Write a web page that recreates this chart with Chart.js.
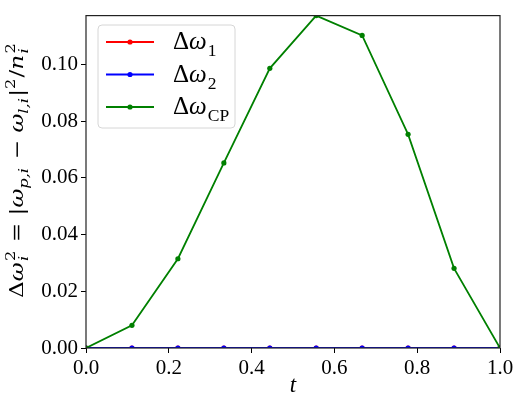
<!DOCTYPE html>
<html>
<head>
<meta charset="utf-8">
<script src="https://cdn.jsdelivr.net/npm/chart.js@4.4.1/dist/chart.umd.min.js"></script>
<style>
  html, body { margin: 0; padding: 0; background: #fff; }
  #wrap { width: 523px; height: 413px; }
</style>
</head>
<body>
<div id="wrap"><canvas id="c" width="523" height="413"></canvas></div>
<script>
// data
const tValues = [0.0, 0.111, 0.222, 0.333, 0.444, 0.556, 0.667, 0.778, 0.889, 1.0];
const dOmega1 = [0, 0, 0, 0, 0, 0, 0, 0, 0, 0];
const dOmega2 = [0, 0, 0, 0, 0, 0, 0, 0, 0, 0];
const dOmegaCP = [0.0, 0.0080, 0.0315, 0.0653, 0.0987, 0.1173, 0.1103, 0.0754, 0.0281, 0.0];
const seriesSubs = ['1', '2', 'CP'];
const seriesColors = ['#ff0000', '#0000ff', '#008000'];
const xTicks = [0.0, 0.2, 0.4, 0.6, 0.8, 1.0];
const yTicks = [0.00, 0.02, 0.04, 0.06, 0.08, 0.10];

const SERIF = '"Liberation Serif", "DejaVu Serif", serif';
const WIDE_SERIF = '"DejaVu Serif", serif';

function pts(ys) { return tValues.map((t, i) => ({ x: t, y: ys[i] })); }

function mkSet(ys, idx) {
  return {
    label: 'Δω' + seriesSubs[idx],
    data: pts(ys),
    borderColor: seriesColors[idx],
    backgroundColor: seriesColors[idx],
    borderWidth: 1.8,
    pointRadius: 2.6,
    pointHoverRadius: 2.6,
    pointBorderWidth: 0,
    tension: 0,
    clip: 0,
    order: 3 - idx
  };
}

// draw a run of pieces: {t, it, sh (baseline shift), sz (scale), stack}
function drawRich(ctx, pieces, x, y, size, fam) {
  fam = fam || SERIF;
  let cx = x;
  pieces.forEach(p => {
    if (p.stack) {
      // superscript over subscript, same x
      ctx.font = `${size * 0.7}px ${fam}`;
      ctx.fillText(p.sup, cx + 1, y - size * 0.42);
      const w1 = ctx.measureText(p.sup).width;
      ctx.font = `italic ${size * 0.7}px ${fam}`;
      ctx.fillText(p.sub, cx + 1, y + size * 0.25);
      const w2 = ctx.measureText(p.sub).width;
      cx += Math.max(w1, w2) + 2;
      return;
    }
    const s = size * (p.sz || 1);
    ctx.font = `${p.it ? 'italic ' : ''}${s}px ${fam}`;
    ctx.fillText(p.t, cx, y + (p.sh || 0) * size);
    cx += ctx.measureText(p.t).width + (p.gap || 0);
  });
  return cx - x;
}

function measureRich(ctx, pieces, size, fam) {
  ctx.save();
  ctx.globalAlpha = 0;
  const w = drawRich(ctx, pieces, -9999, -9999, size, fam);
  ctx.restore();
  return w;
}

const yTitlePieces = [
  { t: 'Δ' }, { t: 'ω', it: true }, { stack: true, sup: '2', sub: 'i' },
  { t: ' = |' }, { t: 'ω', it: true }, { t: 'p,i', it: true, sz: 0.7, sh: 0.25, gap: 1 },
  { t: ' − ' }, { t: 'ω', it: true }, { t: 'l,i', it: true, sz: 0.7, sh: 0.25, gap: 1 },
  { t: '|' }, { t: '2', sz: 0.7, sh: -0.42, gap: 1 }, { t: '/' }, { t: 'n', it: true },
  { stack: true, sup: '2', sub: 'i' }
];

const framePlugin = {
  id: 'frame',
  afterDatasetsDraw(chart) {
    const { ctx, chartArea: a } = chart;
    ctx.save();
    ctx.strokeStyle = '#222';
    ctx.lineWidth = 1.2;
    ctx.strokeRect(a.left, a.top, a.right - a.left, a.bottom - a.top);
    ctx.restore();
  },
  afterDraw(chart) {
    const { ctx, chartArea: a } = chart;
    ctx.save();
    ctx.fillStyle = '#000';
    ctx.textBaseline = 'alphabetic';

    // x title
    ctx.font = `italic 23px ${SERIF}`;
    ctx.textAlign = 'center';
    ctx.fillText('t', (a.left + a.right) / 2, 392);

    // y title (rotated), stretched to the span seen in the picture
    ctx.textAlign = 'left';
    const size = 19;
    const w = measureRich(ctx, yTitlePieces, size, WIDE_SERIF);
    const span = 256;
    ctx.translate(23, 170);
    ctx.rotate(-Math.PI / 2);
    ctx.scale(span / w, 1);
    drawRich(ctx, yTitlePieces, -w / 2, 0, size, WIDE_SERIF);
    ctx.restore();

    // legend box inside the axes, upper left
    ctx.save();
    const bx = 98, by = 25, bw = 137, bh = 103;
    ctx.beginPath();
    ctx.roundRect(bx, by, bw, bh, 4);
    ctx.fillStyle = 'rgba(255,255,255,0.85)';
    ctx.fill();
    ctx.strokeStyle = '#d6d6d6';
    ctx.lineWidth = 1;
    ctx.stroke();
    chart.data.datasets.forEach((ds, i) => {
      const ly = 42 + i * 32.5;
      ctx.strokeStyle = ds.borderColor;
      ctx.lineWidth = 1.8;
      ctx.beginPath();
      ctx.moveTo(106, ly);
      ctx.lineTo(154, ly);
      ctx.stroke();
      ctx.fillStyle = ds.borderColor;
      ctx.beginPath();
      ctx.arc(130, ly, 2.6, 0, Math.PI * 2);
      ctx.fill();
      ctx.fillStyle = '#000';
      const sub = ds.label.slice(2);
      drawRich(ctx, [
        { t: 'Δ' }, { t: 'ω', it: true, gap: 1 },
        { t: sub, sz: 0.7, sh: 0.28 }
      ], 173, ly + 7, 25);
    });
    ctx.restore();
  }
};

new Chart(document.getElementById('c'), {
  type: 'line',
  data: {
    datasets: [mkSet(dOmega1, 0), mkSet(dOmega2, 1), mkSet(dOmegaCP, 2)]
  },
  options: {
    responsive: false,
    animation: false,
    events: [],
    layout: { padding: { left: 0, top: 14, right: 23, bottom: 0 } },
    plugins: { legend: { display: false }, tooltip: { enabled: false } },
    scales: {
      x: {
        type: 'linear',
        min: 0, max: 1,
        afterFit(s) { s.height = 65; },
        afterBuildTicks(s) { s.ticks = xTicks.map(v => ({ value: v })); },
        grid: { drawOnChartArea: false, drawTicks: true, tickLength: 5, color: '#000' },
        border: { display: false },
        ticks: {
          color: '#000', padding: 3, maxRotation: 0,
          font: { family: SERIF, size: 21 },
          callback: v => v.toFixed(1)
        }
      },
      y: {
        type: 'linear',
        min: 0, max: 0.1173,
        afterFit(s) { s.width = 86; },
        afterBuildTicks(s) { s.ticks = yTicks.map(v => ({ value: v })); },
        grid: { drawOnChartArea: false, drawTicks: true, tickLength: 5, color: '#000' },
        border: { display: false },
        ticks: {
          color: '#000', padding: 3,
          font: { family: SERIF, size: 21 },
          callback: v => v.toFixed(2)
        }
      }
    }
  },
  plugins: [framePlugin]
});
</script>
</body>
</html>
